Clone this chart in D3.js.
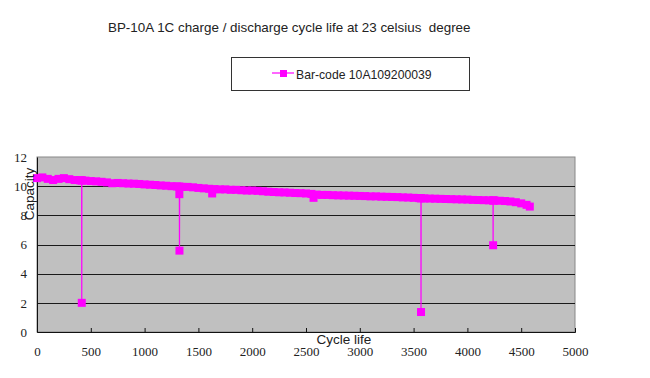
<!DOCTYPE html>
<html><head><meta charset="utf-8">
<script src="https://cdn.jsdelivr.net/npm/d3@7"></script>
<style>body{margin:0;background:#fff}svg{display:block}</style>
</head><body>
<svg id="c" width="650" height="378"></svg>
<script>
const title = "BP-10A 1C charge / discharge cycle life at 23 celsius  degree";
const seriesName = "Bar-code 10A109200039";
const xLabel = "Cycle life";
const yLabel = "Capacity";
const xTicks = [0,500,1000,1500,2000,2500,3000,3500,4000,4500,5000];
const yTicks = [0,2,4,6,8,10,12];
const cycles = [0,50,100,150,200,250,300,350,400,415,416,417,450,500,550,600,650,700,750,800,850,900,950,1000,1050,1100,1150,1200,1250,1300,1320,1323,1324,1326,1350,1400,1450,1500,1550,1600,1628,1650,1700,1750,1800,1850,1900,1950,2000,2050,2100,2150,2200,2250,2300,2350,2400,2450,2500,2550,2570,2600,2650,2700,2750,2800,2850,2900,2950,3000,3050,3100,3150,3200,3250,3300,3350,3400,3450,3500,3550,3568,3569,3570,3600,3650,3700,3750,3800,3850,3900,3950,4000,4050,4100,4150,4200,4238,4239,4240,4250,4300,4350,4400,4450,4500,4550,4580];
const capacity = [10.55,10.6,10.5,10.42,10.5,10.55,10.48,10.42,10.4,10.4,2.0,10.39,10.38,10.35,10.33,10.3,10.26,10.2,10.22,10.2,10.18,10.17,10.15,10.12,10.1,10.08,10.05,10.03,10.0,9.98,9.97,9.45,5.58,9.96,9.95,9.95,9.92,9.88,9.85,9.82,9.5,9.8,9.78,9.78,9.75,9.75,9.72,9.7,9.7,9.68,9.65,9.62,9.6,9.58,9.57,9.55,9.53,9.52,9.5,9.47,9.2,9.42,9.4,9.4,9.38,9.37,9.36,9.35,9.34,9.33,9.32,9.3,9.3,9.28,9.27,9.26,9.25,9.23,9.22,9.2,9.18,9.17,1.37,9.17,9.16,9.15,9.14,9.13,9.12,9.11,9.1,9.09,9.08,9.06,9.05,9.04,9.03,9.02,5.95,9.02,9.02,9.0,8.98,8.95,8.9,8.82,8.72,8.6];

const data = cycles.map((c,i)=>({x:c,y:capacity[i]}));
const svg = d3.select("#c");
const M = {l:37, r:575, t:157, b:332};
const x = d3.scaleLinear().domain([0,5000]).range([M.l,M.r]);
const y = d3.scaleLinear().domain([0,12]).range([M.b,M.t]);
const mag = "#ff00ff";

svg.append("text").attr("x",108).attr("y",32).attr("font-family","Liberation Sans, Arial, sans-serif")
  .attr("font-size",13.4).attr("fill","#222").style("white-space","pre").text(title);

// legend
svg.append("rect").attr("x",231.5).attr("y",57.5).attr("width",238).attr("height",33)
  .attr("fill","#fff").attr("stroke","#333").attr("stroke-width",1);
svg.append("line").attr("x1",272).attr("x2",294).attr("y1",73).attr("y2",73).attr("stroke",mag).attr("stroke-width",1.2);
svg.append("rect").attr("x",280).attr("y",70).attr("width",7).attr("height",7).attr("fill",mag);
svg.append("text").attr("x",296).attr("y",78.5).attr("font-family","Liberation Sans, Arial, sans-serif")
  .attr("font-size",12.2).attr("fill","#222").text(seriesName);

// plot area
svg.append("rect").attr("x",M.l).attr("y",M.t).attr("width",M.r-M.l).attr("height",M.b-M.t)
  .attr("fill","#c0c0c0").attr("stroke","#888").attr("stroke-width",1);
svg.append("g").selectAll("line").data(yTicks.filter(v=>v>0&&v<12)).join("line")
  .attr("x1",M.l).attr("x2",M.r).attr("y1",d=>Math.round(y(d))+0.5).attr("y2",d=>Math.round(y(d))+0.5)
  .attr("stroke","#1a1a1a").attr("stroke-width",1);

// axes
const xAxis = d3.axisBottom(x).tickValues(xTicks).tickSize(-4).tickPadding(15).tickFormat(d3.format("d"));
const gx = svg.append("g").attr("transform",`translate(0,${M.b})`).call(xAxis);
gx.select(".domain").attr("stroke","#111");
gx.selectAll("line").attr("stroke","#111");
gx.selectAll("text").attr("font-family","Liberation Serif, serif").attr("font-size",13).attr("fill","#222");
const yAxis = d3.axisLeft(y).tickValues(yTicks).tickSize(0).tickPadding(10).tickFormat(d3.format("d"));
const gy = svg.append("g").attr("transform",`translate(${M.l},0)`).call(yAxis);
gy.select(".domain").attr("stroke","#111");
gy.selectAll("text").attr("font-family","Liberation Serif, serif").attr("font-size",13).attr("fill","#222");

// series
const line = d3.line().x(d=>x(d.x)).y(d=>y(d.y));
svg.append("path").datum(data).attr("d",line).attr("fill","none").attr("stroke",mag).attr("stroke-width",1.2);
svg.append("g").selectAll("rect").data(data).join("rect")
  .attr("x",d=>x(d.x)-4).attr("y",d=>y(d.y)-4).attr("width",8).attr("height",8).attr("fill",mag);

// axis titles
svg.append("text").attr("x",344).attr("y",344).attr("text-anchor","middle")
  .attr("font-family","Liberation Sans, Arial, sans-serif").attr("font-size",13.5).attr("fill","#222").text(xLabel);
svg.append("text").attr("transform","translate(34,194) rotate(-90)").attr("text-anchor","middle")
  .attr("font-family","Liberation Sans, Arial, sans-serif").attr("font-size",13.5).attr("fill","#222").text(yLabel);
</script>
</body></html>
